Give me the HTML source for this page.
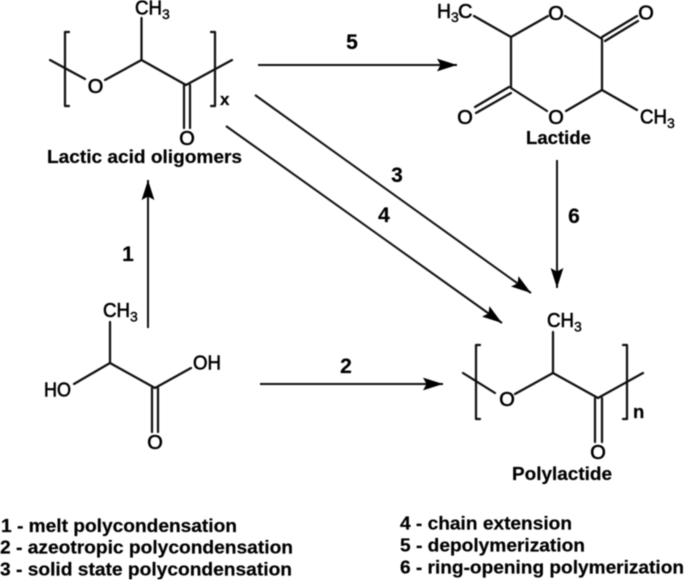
<!DOCTYPE html>
<html>
<head>
<meta charset="utf-8">
<style>
html,body{margin:0;padding:0;background:#fff;width:685px;height:581px;overflow:hidden}
svg{display:block}
text{font-family:"Liberation Sans",sans-serif;fill:#000}
.a{font-size:20px;stroke:#000;stroke-width:.6px}
.u{font-size:14px;stroke:#000;stroke-width:.4px}
.b{font-size:18.5px;font-weight:bold;stroke:#000;stroke-width:.2px}
.n{font-size:21px;font-weight:bold;text-anchor:middle;stroke:#000;stroke-width:.2px}
.l{font-size:18.5px;font-weight:bold;stroke:#000;stroke-width:.2px}
.m{text-anchor:middle}
.s{fill:none;stroke:#111;stroke-width:2.2;stroke-linecap:round;stroke-linejoin:round}
.r{fill:none;stroke:#111;stroke-width:2}
</style>
</head>
<body>
<svg width="685" height="581" viewBox="0 0 685 581" xmlns="http://www.w3.org/2000/svg">
<defs>
<marker id="h" markerUnits="userSpaceOnUse" markerWidth="24" markerHeight="16" refX="20" refY="8" orient="auto">
<path d="M0,1.6 L20,8 L0,14.4 L3.5,8 Z" fill="#000"/>
</marker>
<filter id="f" x="0" y="0" width="100%" height="100%"><feGaussianBlur stdDeviation="0.4"/></filter>
</defs>
<g filter="url(#f)">
<!-- oligomers -->
<path class="s" d="M141.5,18 V60 M50,60 L85,79 M105,80 L141.5,60 L186,85 L232,60 M184,85 V128 M190,85 V128"/>
<path class="s" d="M69,32 H65 V106 H69 M211,32 H215 V106 H211"/>
<text class="a" x="135" y="14.5" textLength="27" lengthAdjust="spacingAndGlyphs">CH</text><text class="u" x="162" y="19">3</text>
<text class="a m" x="95.5" y="93">O</text>
<text class="a m" x="187" y="145">O</text>
<text class="b" x="220" y="105" style="font-size:17px">x</text>
<text class="b" x="47" y="163" textLength="195" lengthAdjust="spacingAndGlyphs">Lactic acid oligomers</text>

<!-- lactide -->
<path class="s" d="M474,16 L511,37 L548,16 M565,16 L602,39 V90 L566,111 M547,111 L511,88 V37 M602,90 L637,110 M602,37 L637,16 M605,41 L638,21 M509,87 L475,107 M511,93 L476,113"/>
<text class="a" x="437" y="18" textLength="14" lengthAdjust="spacingAndGlyphs">H</text><text class="u" x="451" y="22">3</text><text class="a" x="458" y="18">C</text>
<text class="a m" x="556" y="20">O</text>
<text class="a m" x="646" y="19.5">O</text>
<text class="a m" x="465" y="124">O</text>
<text class="a m" x="556" y="124">O</text>
<text class="a" x="640" y="123.5" textLength="27" lengthAdjust="spacingAndGlyphs">CH</text><text class="u" x="667" y="128">3</text>
<text class="b" x="526" y="144" textLength="65" lengthAdjust="spacingAndGlyphs">Lactide</text>

<!-- lactic acid -->
<path class="s" d="M110,322 V363 L74,384 M110,363 L155,388 L191,368 M152,388 V432 M158,388 V432"/>
<text class="a" x="103" y="317" textLength="27" lengthAdjust="spacingAndGlyphs">CH</text><text class="u" x="130" y="321.5">3</text>
<text class="a" x="44" y="396.5" textLength="27" lengthAdjust="spacingAndGlyphs">HO</text>
<text class="a" x="193" y="369.5" textLength="28" lengthAdjust="spacingAndGlyphs">OH</text>
<text class="a m" x="155" y="449">O</text>

<!-- polylactide -->
<path class="s" d="M553,332 V373 L515,394 M495,393 L463,373 M553,373 L598,398 L643,373 M595,398 V442 M602,398 V442"/>
<path class="s" d="M480,345 H476 V419 H480 M623,345 H627 V419 H623"/>
<text class="a" x="547" y="327" textLength="27" lengthAdjust="spacingAndGlyphs">CH</text><text class="u" x="574" y="331.5">3</text>
<text class="a m" x="507" y="406">O</text>
<text class="a m" x="598" y="459">O</text>
<text class="b" x="633" y="418">n</text>
<text class="b" x="512" y="480" textLength="100" lengthAdjust="spacingAndGlyphs">Polylactide</text>

<!-- arrows -->
<line class="r" x1="148" y1="328" x2="148" y2="180" marker-end="url(#h)"/>
<line class="r" x1="260" y1="384" x2="443" y2="384" marker-end="url(#h)"/>
<line class="r" x1="255" y1="95" x2="531" y2="293" marker-end="url(#h)"/>
<line class="r" x1="226" y1="126" x2="502" y2="323" marker-end="url(#h)"/>
<line class="r" x1="258" y1="65" x2="457" y2="65" marker-end="url(#h)"/>
<line class="r" x1="557" y1="160" x2="557" y2="288" marker-end="url(#h)"/>

<text class="n" x="128" y="261">1</text>
<text class="n" x="346" y="373">2</text>
<text class="n" x="397" y="182">3</text>
<text class="n" x="384" y="222">4</text>
<text class="n" x="352" y="49">5</text>
<text class="n" x="574" y="223">6</text>

<!-- legend -->
<text class="l" x="1" y="532" textLength="236" lengthAdjust="spacingAndGlyphs">1 - melt polycondensation</text>
<text class="l" x="0" y="553.5" textLength="293" lengthAdjust="spacingAndGlyphs">2 - azeotropic polycondensation</text>
<text class="l" x="0" y="575.5" textLength="292" lengthAdjust="spacingAndGlyphs">3 - solid state polycondensation</text>
<text class="l" x="400" y="529.5" textLength="172" lengthAdjust="spacingAndGlyphs">4 - chain extension</text>
<text class="l" x="400" y="551.5" textLength="185" lengthAdjust="spacingAndGlyphs">5 - depolymerization</text>
<text class="l" x="400" y="573.5" textLength="284" lengthAdjust="spacingAndGlyphs">6 - ring-opening polymerization</text>
</g>
</svg>
</body>
</html>
